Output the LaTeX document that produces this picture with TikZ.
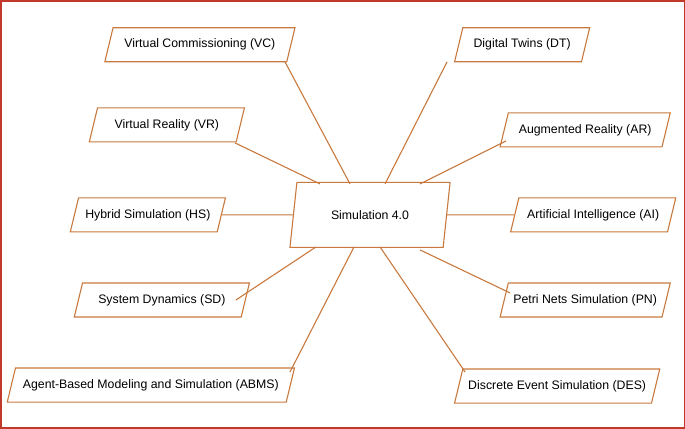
\documentclass[tikz,border=0pt]{standalone}
\usepackage{fontspec}
\setmainfont{Liberation Sans}
\usetikzlibrary{shapes.geometric}
\definecolor{ob}{HTML}{C8793E}
\definecolor{fr}{HTML}{C0392B}
\tikzset{
  pbox/.style={trapezium, trapezium left angle=62, trapezium right angle=118,
    trapezium stretches body, draw=ob, line width=1.1pt, minimum height=34pt,
    inner sep=2pt, font=\fontsize{12.3}{14}\selectfont, text=black},
  link/.style={draw=ob, line width=1.1pt}
}
\begin{document}
\begin{tikzpicture}[x=1pt,y=-1pt]
\draw[fr, line width=1.5pt] (1,1) rectangle (684,428);
\node[pbox, minimum width=190pt] (vc) at (200,45) {Virtual Commissioning (VC)};
\node[pbox, minimum width=155pt] (vr) at (167,125) {Virtual Reality (VR)};
\node[pbox, minimum width=155pt] (hs) at (148,215) {Hybrid Simulation (HS)};
\node[pbox, minimum width=175pt] (sd) at (162,300) {System Dynamics (SD)};
\node[pbox, minimum width=287pt] (ab) at (151,385) {Agent-Based Modeling and Simulation (ABMS)};
\node[pbox, minimum width=135pt] (dt) at (522,45) {Digital Twins (DT)};
\node[pbox, minimum width=170pt] (ar) at (585,130) {Augmented Reality (AR)};
\node[pbox, minimum width=165pt] (ai) at (593,215) {Artificial Intelligence (AI)};
\node[pbox, minimum width=170pt] (pn) at (585,300) {Petri Nets Simulation (PN)};
\node[pbox, minimum width=205pt] (de) at (557,386) {Discrete Event Simulation (DES)};
\node[pbox, minimum width=160pt, minimum height=65pt] (c) at (370,215) {Simulation 4.0};
\coordinate (vc1) at (285,62); \coordinate (vc2) at (350,184);
\draw[link] (vc1) -- (vc2);
\coordinate (vr1) at (235,143); \coordinate (vr2) at (320,184);
\draw[link] (vr1) -- (vr2);
\draw[link] (hs.east) -- (c.west);
\coordinate (sd1) at (236,300); \coordinate (sd2) at (316,247);
\draw[link] (sd1) -- (sd2);
\coordinate (ab1) at (290,372); \coordinate (ab2) at (354,247);
\draw[link] (ab1) -- (ab2);
\coordinate (dt1) at (447,62); \coordinate (dt2) at (385,184);
\draw[link] (dt1) -- (dt2);
\coordinate (ar1) at (506,141); \coordinate (ar2) at (420,184);
\draw[link] (ar1) -- (ar2);
\draw[link] (ai.west) -- (c.east);
\coordinate (pn1) at (510,293); \coordinate (pn2) at (420,250);
\draw[link] (pn1) -- (pn2);
\coordinate (de1) at (465,372); \coordinate (de2) at (380,247);
\draw[link] (de1) -- (de2);
\end{tikzpicture}
\end{document}
